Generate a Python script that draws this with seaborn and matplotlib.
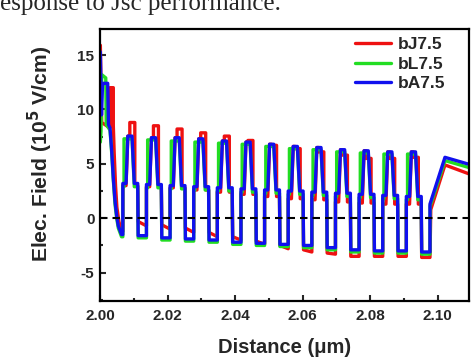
import pandas as pd
import seaborn as sns
import matplotlib
matplotlib.use('Agg')
import matplotlib.pyplot as plt
from matplotlib.ticker import MultipleLocator, FormatStrFormatter

# sample names / colours
samples = ['bJ7.5', 'bL7.5', 'bA7.5']
colors = ['#EE1111', '#22DD22', '#1010EE']

# start of each well in the superlattice (um)
well_start = [2.0043, 2.0113, 2.0183, 2.0253, 2.0323, 2.0393, 2.0463,
              2.0533, 2.0603, 2.0673, 2.0743, 2.0813, 2.0883, 2.0953]

# shape of one period, offsets from the well start (um)
well_end = 0.00246
plat_end = 0.00341
peak_start = 0.00394
peak_end = 0.00518
plat2_start = 0.00586
drop = 0.00687
green_jump = 0.00281
red_step = 0.00453
red_fall = 0.00601

# first few nm (spiky part)
blue_init_x = [2.0001, 2.00044, 2.00074, 2.00100, 2.00228, 2.00252, 2.00296,
               2.00346, 2.00394, 2.00444, 2.00494, 2.00542, 2.00637]
blue_init_y = [15.3, 9.5, 12.2, 12.4, 12.4, 8.6, 8.3, 6.2, 3.7, 1.6, 0.2, -0.7, -1.5]
green_init_x = [2.0001, 2.00030, 2.00050, 2.00170, 2.00185, 2.00252, 2.00296,
                2.00346, 2.00394, 2.00444, 2.00494, 2.00542, 2.00637]
green_init_y = [7.0, 8.0, 13.2, 12.9, 8.6, 8.3, 8.1, 6.0, 3.5, 1.3, 0.0, -0.9, -1.7]
red_init_x = [2.0001, 2.00050, 2.00296, 2.00296, 2.00394, 2.00394, 2.00420,
              2.00460, 2.00500, 2.00560, 2.00637]
red_init_y = [15.9, 8.8, 8.3, 12.0, 12.0, 8.5, 6.0, 3.0, 1.0, -0.3, -1.2]

# per period values (10^5 V/cm)
blue_peak = [7.55, 7.4, 7.4, 7.3, 7.1, 7.0, 6.8, 6.6, 6.5, 6.3, 6.2, 6.1, 6.1]
blue_plat = [3.2, 3.1, 3.0, 2.9, 2.8, 2.7, 2.6, 2.5, 2.4, 2.3, 2.2, 2.1, 2.0]
blue_well = [-1.5, -1.6, -1.8, -1.9, -2.0, -2.2, -2.3, -2.4, -2.5, -2.7, -2.9, -3.0, -3.0, -3.1]

green_peak = [7.3, 7.2, 7.1, 7.0, 6.9, 6.8, 6.6, 6.4, 6.3, 6.1, 6.0, 5.9, 5.9]
green_plat = [2.9, 2.8, 2.7, 2.6, 2.5, 2.4, 2.3, 2.2, 2.1, 2.0, 1.9, 1.8, 1.7]
green_well = [-1.7, -1.8, -2.0, -2.1, -2.2, -2.4, -2.5, -2.6, -2.7, -2.9, -3.1, -3.2, -3.2, -3.3]

red_peak = [8.8, 8.5, 8.2, 7.85, 7.55, 7.15, 6.7, 6.4, 6.1, 5.8, 5.5, 5.5, 5.6]
red_low = [3.0, 2.9, 2.8, 2.6, 2.4, 2.2, 2.0, 1.8, 1.7, 1.5, 1.4, 1.3, 1.3]
red_well_a = [-1.2, -0.3, -0.6, -0.9, -1.3, -1.7, -2.1, -2.5, -2.9, -3.2, -3.5, -3.5, -3.5, -3.6]
red_well_b = [-1.2, -0.7, -1.0, -1.3, -1.7, -2.0, -2.4, -2.8, -3.1, -3.3, -3.5, -3.5, -3.5, -3.6]

# last bump after the final well
blue_end_x = [2.09776, 2.1022, 2.1100]
blue_end_y = [1.3, 5.6, 4.9]
green_end_x = [2.0978, 2.1022, 2.1100]
green_end_y = [1.1, 5.3, 4.6]
red_end_x = [2.0980, 2.1022, 2.1100]
red_end_y = [0.8, 4.9, 4.0]


def blue_pts():
    pts = list(zip(blue_init_x, blue_init_y))
    for k in range(13):
        s = well_start[k]
        if k > 0:
            pts.append((s, blue_well[k]))
        pts += [(s + well_end, blue_well[k]), (s + well_end, blue_plat[k]),
                (s + plat_end, blue_plat[k]), (s + peak_start, blue_peak[k]),
                (s + peak_end, blue_peak[k]), (s + plat2_start, blue_plat[k]),
                (s + drop, blue_plat[k])]
    s = well_start[13]
    pts += [(s, blue_well[13]), (s + well_end, blue_well[13])]
    pts += list(zip(blue_end_x, blue_end_y))
    return pts


def green_pts():
    pts = list(zip(green_init_x, green_init_y))
    for k in range(13):
        s = well_start[k]
        if k > 0:
            pts.append((s, green_well[k]))
        pts += [(s + well_end, green_well[k]), (s + well_end, green_plat[k]),
                (s + green_jump, green_plat[k]), (s + green_jump, green_peak[k]),
                (s + peak_end, green_peak[k]), (s + plat2_start, green_plat[k]),
                (s + drop, green_plat[k])]
    s = well_start[13]
    pts += [(s, green_well[13]), (s + well_end, green_well[13])]
    pts += list(zip(green_end_x, green_end_y))
    return pts


def red_pts():
    pts = list(zip(red_init_x, red_init_y))
    for k in range(13):
        s = well_start[k]
        if k > 0:
            pts.append((s, red_well_a[k]))
        pts += [(s + well_end, red_well_b[k]), (s + well_end, red_low[k]),
                (s + plat_end, red_low[k]), (s + peak_start, blue_peak[k]),
                (s + red_step, blue_peak[k]), (s + red_step, red_peak[k]),
                (s + red_fall, red_peak[k]), (s + red_fall, red_low[k]),
                (s + drop, red_low[k])]
    s = well_start[13]
    pts += [(s, red_well_a[13]), (s + well_end, red_well_b[13])]
    pts += list(zip(red_end_x, red_end_y))
    return pts


frames = []
for name, pts in zip(samples, [red_pts(), green_pts(), blue_pts()]):
    d = pd.DataFrame(pts, columns=['x', 'y'])
    d['sample'] = name
    frames.append(d)
df = pd.concat(frames, ignore_index=True)

sns.set_style('ticks')
plt.rcParams['font.family'] = ['Liberation Sans', 'DejaVu Sans']
plt.rcParams['axes.unicode_minus'] = False

fig = plt.figure(figsize=(4.74, 3.57), dpi=100)
ax = fig.add_axes([0.211, 0.157, 0.779, 0.762])

sns.lineplot(data=df, x='x', y='y', hue='sample', hue_order=samples,
             palette=colors, sort=False, estimator=None, lw=2.4, ax=ax)
ax.axhline(0, color='black', ls=(0, (3.6, 2.4)), lw=1.5, zorder=5)

ax.set_xlim(2.0, 2.1094)
ax.set_ylim(-7.6, 17.4)
ax.xaxis.set_major_locator(MultipleLocator(0.02))
ax.xaxis.set_minor_locator(MultipleLocator(0.01))
ax.xaxis.set_major_formatter(FormatStrFormatter('%.2f'))
ax.yaxis.set_major_locator(MultipleLocator(5))
ax.yaxis.set_minor_locator(MultipleLocator(2.5))
ax.tick_params(which='both', direction='in', width=1.5, labelsize=11)
ax.tick_params(axis='x', pad=6)
ax.tick_params(axis='y', pad=4)
ax.tick_params(which='major', length=4.5)
ax.tick_params(which='minor', length=2.5)
for lab in ax.get_xticklabels() + ax.get_yticklabels():
    lab.set_fontweight('bold')
for sp in ax.spines.values():
    sp.set_linewidth(1.6)
    sp.set_color('black')

ax.set_xlabel('Distance (\u03bcm)', fontsize=14.5, fontweight='bold')
ax.set_ylabel('Elec. Field (10$^{\\mathbf{5}}$ V/cm)', fontsize=15.2,
              fontweight='bold')
ax.xaxis.set_label_coords(0.5, -0.135)
ax.yaxis.set_label_coords(-0.121, 0.54)

h, l = ax.get_legend_handles_labels()
ax.legend(h, l, loc='upper left', bbox_to_anchor=(0.749, 0.896),
          bbox_transform=fig.transFigure, frameon=False, borderpad=0,
          borderaxespad=0, handlelength=2.1, handletextpad=0.35,
          labelspacing=0.25, prop={'weight': 'bold', 'size': 12.5})

fig.text(0.0, 1 - 10 / 357, 'esponse to Jsc performance.', family='Liberation Serif',
         fontsize=18, va='baseline', ha='left')

fig.savefig('out.png', dpi=100)
